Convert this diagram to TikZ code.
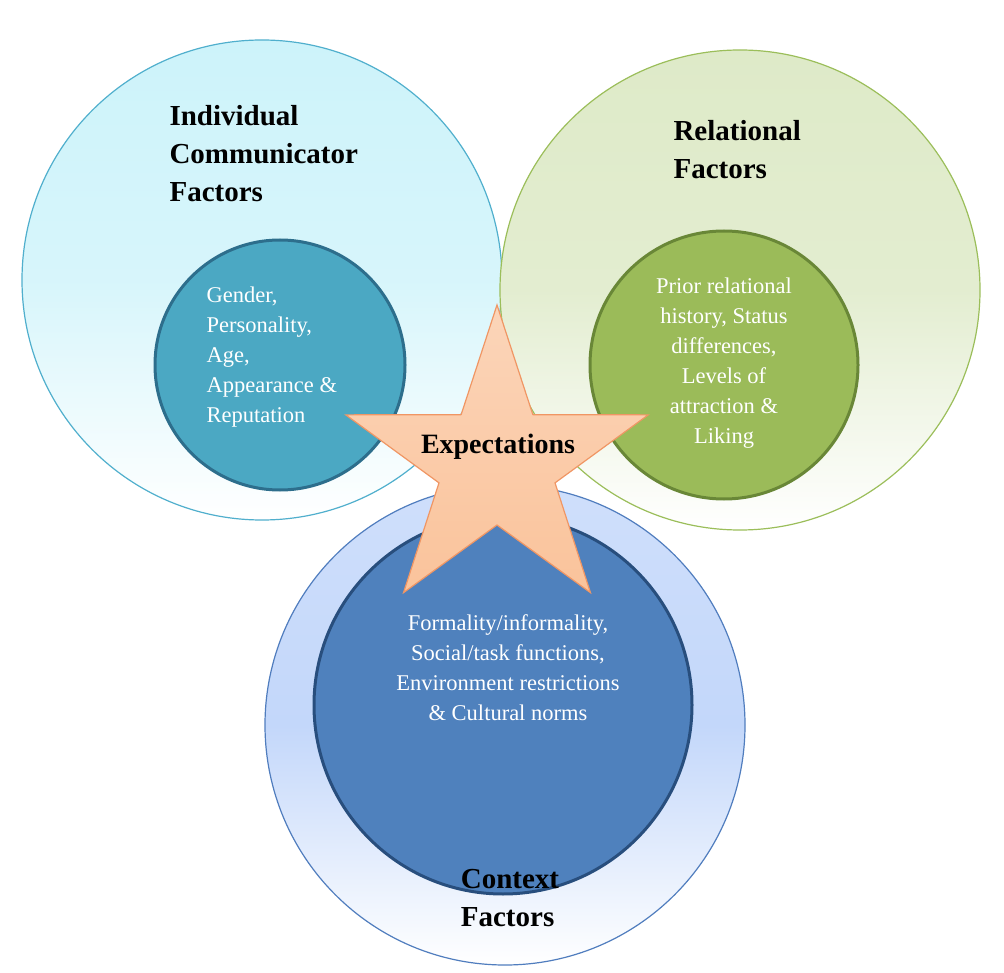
\documentclass[tikz,border=0pt]{standalone}
\usepackage{fontspec}
\setmainfont{Liberation Serif}
\begin{document}
\begin{tikzpicture}[x=1pt,y=-1pt,
  big/.style={line width=1.2pt},
  inner/.style={line width=3pt},
  lab/.style={font=\fontsize{29}{38}\selectfont\bfseries,align=left,anchor=north west},
  wt/.style={font=\fontsize{22.5}{30}\selectfont,text=white}]
\definecolor{lcy}{RGB}{205,243,250}\definecolor{lcyb}{RGB}{80,175,205}
\definecolor{lgr}{RGB}{222,234,200}\definecolor{lgrb}{RGB}{155,190,90}
\definecolor{lbl}{RGB}{195,215,250}\definecolor{lblb}{RGB}{80,125,190}
\definecolor{ic}{RGB}{75,168,195}\definecolor{icb}{RGB}{45,110,140}
\definecolor{ig}{RGB}{155,187,89}\definecolor{igb}{RGB}{105,135,55}
\definecolor{ib}{RGB}{79,129,189}\definecolor{ibb}{RGB}{40,78,125}
\definecolor{st}{RGB}{250,195,155}\definecolor{stb}{RGB}{240,150,100}
\useasboundingbox (0,0) rectangle (1004,973);
\path[big,draw=lcyb,top color=lcy,bottom color=white,middle color=lcy!80] (262,280) circle (240);
\path[big,draw=lgrb,top color=lgr,bottom color=white,middle color=lgr!85] (740,290) circle (240);
\path[big,draw=lblb,top color=lbl!80,bottom color=white,middle color=lbl] (505,725) circle (240);
\node[inner,draw=icb,fill=ic,circle,minimum size=250] (ci) at (280,365) {};
\node[inner,draw=igb,fill=ig,circle,minimum size=268] (cr) at (724,365) {};
\node[inner,draw=ibb,fill=ib,circle,minimum size=378] (cc) at (503,705) {};
\node[lab] (l1) at (166,102) {Individual\\Communicator\\Factors};
\node[lab] (l2) at (670,117) {Relational\\Factors};
\node[lab,anchor=north] (l3) at (510,866) {Context\\Factors};
\node[wt,align=left,anchor=north west] (t1) at (203,283) {Gender,\\Personality,\\Age,\\Appearance \&\\Reputation};
\node[wt,align=center,anchor=north] (t2) at (724,274) {Prior relational\\history, Status\\differences,\\Levels of\\attraction \&\\Liking};
\node[wt,align=center,anchor=north] (t3) at (508,611) {Formality/informality,\\Social/task functions,\\Environment restrictions\\\& Cultural norms};
\path[draw=stb,line width=1.2pt,top color=st!70,bottom color=st]
  (497,464) +(90:-159) -- +(126:-61) -- +(162:-159) -- +(198:-61) -- +(234:-159) -- +(270:-61)
  -- +(306:-159) -- +(342:-61) -- +(18:-159) -- +(54:-61) -- cycle;
\node[font=\fontsize{28}{32}\selectfont\bfseries] (ex) at (498,447) {Expectations};
\end{tikzpicture}
\end{document}
